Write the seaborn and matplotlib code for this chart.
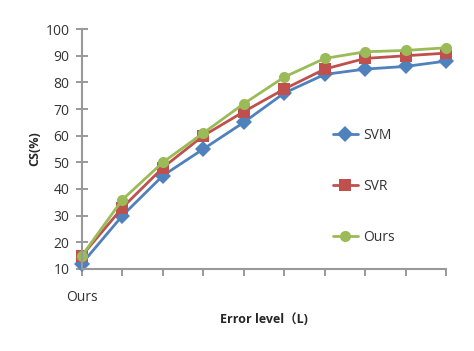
import seaborn as sns
import matplotlib.pyplot as plt
import pandas as pd

levels = list(range(10))
tick_labels = ["Ours", "", "", "", "", "", "", "", "", ""]
svm = [12, 30, 45, 55, 65, 76, 83, 85, 86, 88]
svr = [15, 33, 48, 60, 69, 77.5, 85, 89, 90, 91]
ours = [15, 36, 50, 61, 72, 82, 89, 91.5, 92, 93]

df = pd.DataFrame({
    "level": levels * 3,
    "cs": svm + svr + ours,
    "method": ["SVM"] * 10 + ["SVR"] * 10 + ["Ours"] * 10,
})

sns.set_style("white")
plt.rcParams["font.family"] = ["Open Sans", "Noto Sans CJK SC", "DejaVu Sans"]

fig = plt.figure(figsize=(4.74, 3.51), dpi=100)
ax = fig.add_axes([0.173, 0.234, 0.768, 0.683])

palette = {"SVM": "#4F81BD", "SVR": "#C0504D", "Ours": "#9BBB59"}
markers = {"SVM": "D", "SVR": "s", "Ours": "o"}
sns.lineplot(
    data=df, x="level", y="cs", hue="method", style="method",
    palette=palette, markers=markers, dashes=False, markersize=8,
    markeredgewidth=0, linewidth=2, ax=ax, clip_on=False,
)

ax.set_xlim(0, 9)
ax.set_ylim(10, 100)
ax.set_yticks(range(10, 101, 10))
ax.set_xticks(levels)
ax.set_xticklabels(tick_labels)
for s in ["top", "right"]:
    ax.spines[s].set_visible(False)
for s in ["left", "bottom"]:
    ax.spines[s].set_color("#999999")
    ax.spines[s].set_linewidth(1.5)
ax.tick_params(axis="y", left=True, direction="inout", length=8, width=1.2,
               color="#888888", labelsize=10, labelcolor="#333333", pad=5)
ax.tick_params(axis="x", bottom=True, direction="out", length=5, width=1.2,
               color="#888888", labelsize=10, labelcolor="#333333", pad=10)

ax.set_xlabel("Error level（L)", fontsize=9, fontweight="bold", labelpad=6)
ax.set_ylabel("CS(%)", fontsize=9, fontweight="bold", labelpad=3)

leg = ax.legend(loc="center left", bbox_to_anchor=(0.655, 0.345), frameon=False,
                labelspacing=2.6, handlelength=1.8, handletextpad=0.4,
                fontsize=10)
for t in leg.get_texts():
    t.set_color("#333333")

fig.savefig("out.png", dpi=100)
